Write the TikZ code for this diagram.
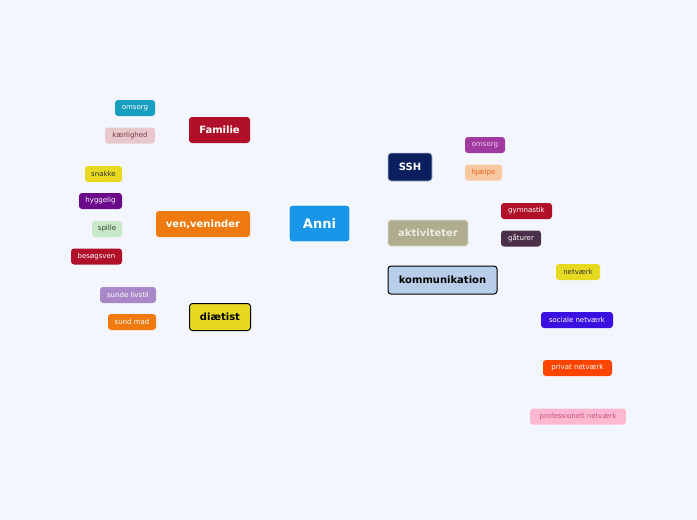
\documentclass[tikz,border=0pt]{standalone}
\usepackage{fontspec}
\setmainfont{DejaVu Sans}
\usetikzlibrary{backgrounds}
\definecolor{bg}{HTML}{F3F6FE}
\definecolor{ln}{HTML}{B4B8C0}
\tikzset{
 base/.style={rounded corners=3pt,inner sep=0pt,align=center},
 main/.style={base,draw=white,line width=1.2pt,font=\bfseries\fontsize{13}{13}\selectfont,minimum height=37pt},
 br/.style={base,font=\bfseries\fontsize{10}{10}\selectfont,minimum height=26pt},
 leaf/.style={base,font=\fontsize{7}{7}\selectfont,minimum height=16pt},
 con/.style={draw=ln,line width=0.9pt},
}
\begin{document}
\begin{tikzpicture}[x=1pt,y=-1pt]
\fill[bg] (0,0) rectangle (697,520);
\useasboundingbox (0,0) rectangle (697,520);
\node[main,fill={rgb,255:red,26;green,150;blue,232},text=white,minimum width=61pt] (anni) at (319.5,223.5) {Anni};
\node[br,fill={rgb,255:red,176;green,16;blue,42},text=white,minimum width=61pt] (fam) at (219.5,130) {Familie};
\node[br,fill={rgb,255:red,238;green,122;blue,16},text=white,minimum width=94pt] (ven) at (203,224) {ven,veninder};
\node[br,fill={rgb,255:red,230;green,217;blue,32},draw=black,line width=1pt,minimum width=61pt,minimum height=27pt] (dia) at (220,317) {diætist};
\node[br,fill={rgb,255:red,11;green,31;blue,94},draw={rgb,255:red,170;green,190;blue,210},line width=0.8pt,text=white,minimum width=44pt,minimum height=28pt] (ssh) at (410,167) {SSH};
\node[br,fill={rgb,255:red,176;green,173;blue,142},draw={rgb,255:red,220;green,220;blue,200},line width=0.8pt,text={rgb,255:red,235;green,235;blue,225},minimum width=80pt] (akt) at (428,233) {aktiviteter};
\node[br,fill={rgb,255:red,184;green,205;blue,232},draw=black,line width=1pt,minimum width=109pt,minimum height=28pt] (kom) at (442.5,280) {kommunikation};
% leaves
\node[leaf,fill={rgb,255:red,26;green,158;blue,192},text=white,minimum width=40pt] (f1) at (135,108) {omsorg};
\node[leaf,fill={rgb,255:red,232;green,200;blue,204},text={rgb,255:red,122;green,58;blue,64},minimum width=50pt] (f2) at (130,135.5) {kærlighed};
\node[leaf,fill={rgb,255:red,230;green,217;blue,32},text=black!80,minimum width=37pt] (v1) at (103.5,174) {snakke};
\node[leaf,fill={rgb,255:red,106;green,10;blue,138},text=white,minimum width=43pt] (v2) at (100.5,201) {hyggelig};
\node[leaf,fill={rgb,255:red,200;green,232;blue,200},text={rgb,255:red,40;green,70;blue,40},minimum width=30pt] (v3) at (107,229) {spille};
\node[leaf,fill={rgb,255:red,176;green,16;blue,42},text=white,minimum width=51pt] (v4) at (96.5,256.5) {besøgsven};
\node[leaf,fill={rgb,255:red,168;green,136;blue,200},text=white,minimum width=56pt] (d1) at (128,295) {sunde livstil};
\node[leaf,fill={rgb,255:red,238;green,122;blue,16},text=white,minimum width=48pt] (d2) at (132,322) {sund mad};
\node[leaf,fill={rgb,255:red,160;green,58;blue,160},text={rgb,255:red,240;green,200;blue,240},minimum width=40pt] (s1) at (485,145) {omsorg};
\node[leaf,fill={rgb,255:red,248;green,200;blue,160},text={rgb,255:red,238;green,96;blue,32},minimum width=37pt] (s2) at (483.5,172.5) {hjælpe};
\node[leaf,fill={rgb,255:red,176;green,16;blue,42},text=white,minimum width=51pt] (a1) at (526.5,211) {gymnastik};
\node[leaf,fill={rgb,255:red,74;green,48;blue,72},text=white,minimum width=40pt] (a2) at (521,238.5) {gåturer};
\node[leaf,fill={rgb,255:red,230;green,217;blue,32},text=black!80,minimum width=44pt] (k1) at (578,272) {netværk};
\node[leaf,fill={rgb,255:red,58;green,16;blue,224},text=white,minimum width=72pt] (k2) at (577,320) {sociale netværk};
\node[leaf,fill={rgb,255:red,255;green,68;blue,0},text=white,minimum width=69pt] (k3) at (577.5,368) {privat netværk};
\node[leaf,fill={rgb,255:red,255;green,184;blue,208},text={rgb,255:red,192;green,80;blue,128},minimum width=96pt] (k4) at (578,416.5) {professionelt netværk};
\begin{scope}[on background layer]
\draw[con] ([xshift=-8pt]anni.north) .. controls +(-20,-50) and +(25,0) .. (fam.east);
\draw[con] (anni.west) -- (ven.east);
\draw[con] ([xshift=-8pt]anni.south) .. controls +(-20,50) and +(25,0) .. (dia.east);
\draw[con] ([xshift=12pt]anni.north) .. controls +(10,-20) and +(-25,0) .. (ssh.west);
\draw[con] (anni.east) .. controls +(15,5) and +(-15,0) .. (akt.west);
\draw[con] ([xshift=12pt]anni.south) .. controls +(10,20) and +(-25,0) .. (kom.west);
\foreach \p/\l in {fam/f1,fam/f2,ven/v1,ven/v2,ven/v3,ven/v4,dia/d1,dia/d2}{
 \draw[con] (\p.west) -- ++(-14,0) .. controls +(-8,0) and +(8,0) .. (\l.south east) -- (\l.south west);
}
\foreach \p/\l in {ssh/s1,ssh/s2,akt/a1,akt/a2}{
 \draw[con] (\p.east) -- ++(14,0) .. controls +(8,0) and +(-8,0) .. (\l.south west) -- (\l.south east);
}
\draw[con] (kom.east) -- (k1.south);
\draw[con] (k1.south) -- (k4.north);
\foreach \l in {k1,k2,k3,k4}{\draw[con] (\l.south west) -- ([xshift=1pt]\l.south east);}
\end{scope}
\end{tikzpicture}
\end{document}
